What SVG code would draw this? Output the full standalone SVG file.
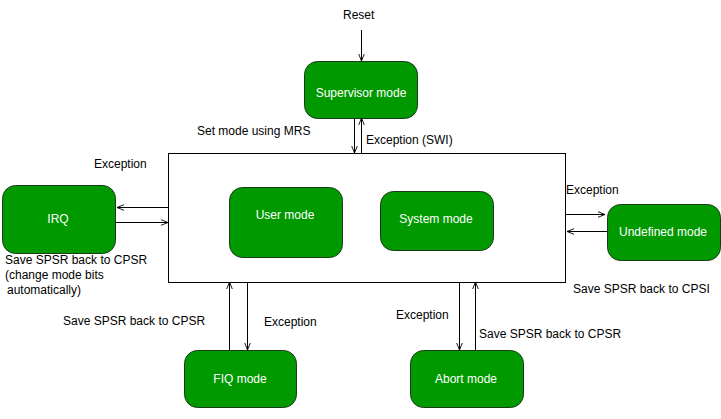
<svg xmlns="http://www.w3.org/2000/svg" width="721" height="419" viewBox="0 0 721 419">
<style>
text{font-family:"Liberation Sans",Arial,sans-serif;font-size:12px;fill:#000}
.n rect{fill:#009900;stroke:#1a3a1a;stroke-width:1}
.n text{fill:#fff;text-anchor:middle}
.c line{stroke:#000;stroke-width:1;marker-end:url(#a)}
</style>
<defs><marker id="a" viewBox="0 0 10 10" refX="10" refY="5" markerWidth="7" markerHeight="7" orient="auto"><path d="M0,1 L10,5 L0,9" fill="none" stroke="#000" stroke-width="1.3"/></marker></defs>
<rect x="168.5" y="153.5" width="397" height="129" fill="#fff" stroke="#000"/>
<g class="n" id="supervisor"><rect x="304.5" y="61.5" width="113" height="57" rx="13"/><text x="361" y="97">Supervisor mode</text></g>
<g class="n" id="irq"><rect x="2.5" y="185.5" width="113" height="68" rx="13"/><text x="58" y="223">IRQ</text></g>
<g class="n" id="user"><rect x="229.5" y="187.5" width="113" height="70" rx="13"/><text x="285" y="219">User mode</text></g>
<g class="n" id="system"><rect x="380.5" y="191.5" width="113" height="59" rx="13"/><text x="436" y="223">System mode</text></g>
<g class="n" id="undefined"><rect x="607.5" y="204.5" width="113" height="56" rx="13"/><text x="663" y="236">Undefined mode</text></g>
<g class="n" id="fiq"><rect x="184.5" y="350.5" width="112" height="57" rx="13"/><text x="240" y="383">FIQ mode</text></g>
<g class="n" id="abort"><rect x="410.5" y="350.5" width="113" height="57" rx="13"/><text x="466" y="383">Abort mode</text></g>
<g class="c">
<line x1="361.5" y1="30" x2="361.5" y2="61"/>
<line x1="354.5" y1="118" x2="354.5" y2="153"/>
<line x1="361.5" y1="153" x2="361.5" y2="118"/>
<line x1="168" y1="207.5" x2="117" y2="207.5"/>
<line x1="115" y1="222.5" x2="168" y2="222.5"/>
<line x1="565" y1="214.5" x2="605" y2="214.5"/>
<line x1="607" y1="231.5" x2="567" y2="231.5"/>
<line x1="229.5" y1="350" x2="229.5" y2="282"/>
<line x1="247.5" y1="282" x2="247.5" y2="350"/>
<line x1="459.5" y1="282" x2="459.5" y2="350"/>
<line x1="475.5" y1="350" x2="475.5" y2="282"/>
</g>
<text x="343" y="19">Reset</text>
<text x="197" y="135">Set mode using MRS</text>
<text x="366" y="144">Exception (SWI)</text>
<text x="94" y="168">Exception</text>
<text x="566" y="194">Exception</text>
<text x="5" y="264">Save SPSR back to CPSR</text>
<text x="5" y="279">(change mode bits</text>
<text x="7" y="294">automatically)</text>
<text x="573" y="293">Save SPSR back to CPSI</text>
<text x="63" y="325">Save SPSR back to CPSR</text>
<text x="264" y="326">Exception</text>
<text x="396" y="319">Exception</text>
<text x="479" y="338">Save SPSR back to CPSR</text>
</svg>
